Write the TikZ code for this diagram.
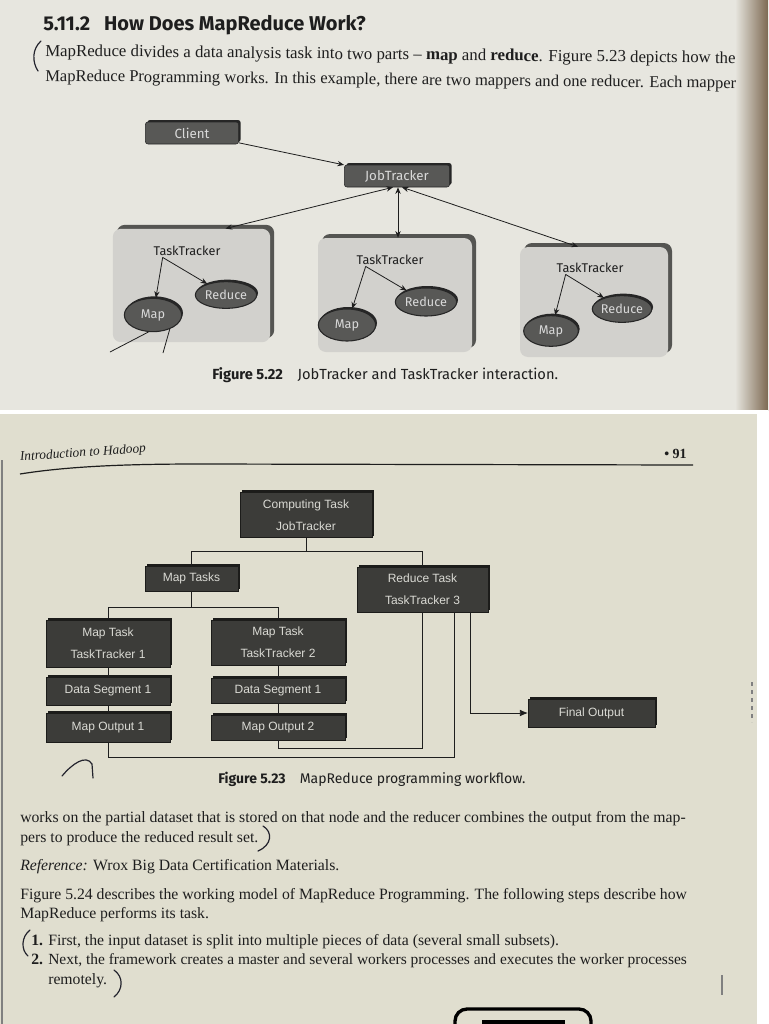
\documentclass[tikz,border=0pt]{standalone}
\usepackage{fontspec}
\setmainfont{Liberation Serif}
\newfontfamily\headfont{Fira Sans}
\newfontfamily\labfont{Liberation Sans}
\usetikzlibrary{arrows.meta, positioning, calc, shapes.geometric, shadows}

\definecolor{paperA}{RGB}{231,230,223}
\definecolor{paperB}{RGB}{224,222,207}
\definecolor{edgeC}{RGB}{125,105,82}
\definecolor{inkC}{RGB}{30,30,30}
\definecolor{boxC}{RGB}{88,88,86}
\definecolor{boxS}{RGB}{38,38,38}
\definecolor{panelC}{RGB}{210,209,205}
\definecolor{panelS}{RGB}{85,85,82}
\definecolor{blockC}{RGB}{60,60,57}
\definecolor{blockS}{RGB}{28,28,26}
\definecolor{blockT}{RGB}{218,218,212}
\definecolor{penC}{RGB}{35,35,45}

\begin{document}
\begin{tikzpicture}[
  x=0.75pt, y=-0.75pt,
  % Top figure styles
  darkbox/.style={rectangle, rounded corners=2pt, draw=boxS, fill=boxC, text=white!85!black,
    font=\headfont\fontsize{10}{11}\selectfont, inner sep=0pt,
    copy shadow={shadow xshift=1.5pt, shadow yshift=1.5pt, fill=boxS, draw=none}},
  panel/.style={rectangle, rounded corners=6pt, fill=panelC, inner sep=0pt,
    copy shadow={shadow xshift=3pt, shadow yshift=3pt, fill=panelS, draw=none}},
  blob/.style={ellipse, draw=boxS, thick, fill=boxC, text=white!85!black,
    font=\headfont\fontsize{9.5}{10}\selectfont, inner sep=0pt,
    copy shadow={shadow xshift=1pt, shadow yshift=1.5pt, fill=boxS, draw=none}},
  ttlabel/.style={font=\headfont\fontsize{9.5}{10}\selectfont, inner sep=1pt, text=inkC},
  link/.style={draw=inkC, line width=0.6pt},
  arr/.style={link, -{Stealth[length=5pt, width=4pt]}},
  arrtwo/.style={link, {Stealth[length=5pt, width=4pt]}-{Stealth[length=5pt, width=4pt]}},
  % Lower figure styles
  block/.style={rectangle, draw=blockS, fill=blockC, text=blockT, align=center,
    font=\labfont\fontsize{9}{16.5}\selectfont, inner sep=0pt,
    copy shadow={shadow xshift=1.5pt, shadow yshift=1.5pt, fill=blockS, draw=none}},
  wire/.style={draw=inkC, line width=0.6pt},
  % Page text
  body/.style={anchor=base west, inner sep=0pt, text=inkC},
  caption/.style={anchor=base west, inner sep=0pt, text=inkC, font=\headfont\fontsize{11}{12}\selectfont},
  pen/.style={draw=penC, line width=0.9pt, line cap=round}
]

\useasboundingbox (0,0) rectangle (768,1024);

% ------------------------------------------------------------
% Paper of the two photos
% ------------------------------------------------------------
\fill[paperA] (0,0) rectangle (768,410);
\shade[left color=paperA, right color=edgeC] (735,0) rectangle (768,410);
\fill[white] (0,410) rectangle (768,414);
\fill[paperB] (0,414) rectangle (757,1024);
\fill[white] (757,414) rectangle (768,1024);
\draw[gray, line width=1pt] (2,460) -- (2,1024);

% ============================================================
% Upper page: heading and text
% ============================================================
\node[body, font=\headfont\bfseries\fontsize{15}{17}\selectfont] (head) at (43,31)
  {5.11.2\hspace{0.7em}How Does MapReduce Work?};
\node[body, rotate=-0.6, font=\fontsize{12.6}{14}\selectfont] (tpone) at (45,56)
  {MapReduce divides a data analysis task into two parts -- \textbf{map} and \textbf{reduce}. Figure 5.23 depicts how the};
\node[body, rotate=-0.6, font=\fontsize{12.4}{14}\selectfont] (tptwo) at (45,81)
  {MapReduce Programming works. In this example, there are two mappers and one reducer. Each mapper};

% ============================================================
% Figure 5.22: JobTracker and TaskTracker
% ============================================================
\node[darkbox, minimum width=70pt, minimum height=16.5pt] (client) at (192,133) {Client};
\node[darkbox, minimum width=79pt, minimum height=16.5pt] (jt) at (397,176) {JobTracker};

% TaskTracker panels
\node[panel, minimum width=118pt, minimum height=85pt] (pone) at (191.5,285.5) {};
\node[panel, minimum width=115.5pt, minimum height=85.5pt] (ptwo) at (395,295) {};
\node[panel, minimum width=111pt, minimum height=82.5pt] (pthree) at (594,302) {};

% Panel 1
\node[ttlabel] (ttone) at (187,251) {TaskTracker};
\node[blob, minimum width=43pt, minimum height=25pt] (mapone) at (153,315) {Map};
\node[blob, minimum width=46pt, minimum height=20pt] (redone) at (226,295) {Reduce};
\coordinate (oone) at ([xshift=8pt]ttone.south west);
\draw[arr] (oone) -- (mapone);
\draw[arr] (oone) -- (redone);
\coordinate (tailA) at (110,352);
\coordinate (tailB) at (163,353);
\draw[link] (mapone.-105) -- (tailA);
\draw[link] (mapone.-40) -- (tailB);

% Panel 2
\node[ttlabel] (tttwo) at (390,260) {TaskTracker};
\node[blob, minimum width=43pt, minimum height=24pt] (maptwo) at (347,325) {Map};
\node[blob, minimum width=46pt, minimum height=21pt] (redtwo) at (426,302) {Reduce};
\coordinate (otwo) at ([xshift=8pt]tttwo.south west);
\draw[arr] (otwo) -- (maptwo);
\draw[arr] (otwo) -- (redtwo);

% Panel 3
\node[ttlabel] (ttthree) at (590,268) {TaskTracker};
\node[blob, minimum width=41pt, minimum height=23pt] (mapthree) at (551,331) {Map};
\node[blob, minimum width=44pt, minimum height=20pt] (redthree) at (622,309) {Reduce};
\coordinate (othree) at ([xshift=8pt]ttthree.south west);
\draw[arr] (othree) -- (mapthree);
\draw[arr] (othree) -- (redthree);

% JobTracker links
\draw[arr] (client) -- (jt);
\draw[arrtwo] ($(jt.south)+(-4,0)$) -- ($(pone.north)+(34,0)$);
\draw[arrtwo] ($(jt.south)+(1,0)$) -- ($(ptwo.north)+(3,0)$);
\draw[arrtwo] ($(jt.south)+(5,0)$) -- ($(pthree.north)+(-16,0)$);

\node[caption] (capone) at (212,379) {\textbf{Figure 5.22}\hspace{1em}JobTracker and TaskTracker interaction.};

% ============================================================
% Lower page: running head
% ============================================================
\node[body, rotate=4, font=\itshape\fontsize{10}{11}\selectfont] (runhead) at (20,461) {Introduction to Hadoop};
\draw[inkC, line width=0.9pt] (20,474) .. controls (70,466) and (130,464) .. (200,464) -- (693,465);
\node[body, font=\bfseries\fontsize{10.5}{12}\selectfont] (folio) at (664,458) {\textbullet\ 91};

% ============================================================
% Figure 5.23: MapReduce workflow
% ============================================================
\node[block, minimum width=99pt, minimum height=34pt] (ct) at (306,515) {Computing Task\\JobTracker};
\node[block, minimum width=70pt, minimum height=19pt] (mtasks) at (191.5,578.5) {Map Tasks};
\node[block, minimum width=98pt, minimum height=34pt] (rtask) at (422.5,589.5) {Reduce Task\\TaskTracker 3};
\node[block, minimum width=93pt, minimum height=35pt] (mtone) at (108,643.5) {Map Task\\TaskTracker 1};
\node[block, minimum width=100.5pt, minimum height=34pt] (mttwo) at (278,642.5) {Map Task\\TaskTracker 2};
\node[block, minimum width=93pt, minimum height=21pt] (dsone) at (108,691) {Data Segment 1};
\node[block, minimum width=100.5pt, minimum height=19pt] (dstwo) at (278,690.5) {Data Segment 1};
\node[block, minimum width=93pt, minimum height=22pt] (moone) at (108,727.5) {Map Output 1};
\node[block, minimum width=100.5pt, minimum height=19pt] (motwo) at (278,727.5) {Map Output 2};
\node[block, minimum width=95pt, minimum height=21pt] (fout) at (591.5,713) {Final Output};

\draw[wire] (ct.south) -- ++(0,13) -| (mtasks.north);
\draw[wire] (ct.south) -- ++(0,13) -| (rtask.north);
\draw[wire] (mtasks.south) -- ++(0,16) -| (mtone.north);
\draw[wire] (mtasks.south) -- ++(0,16) -| (mttwo.north);
\draw[wire] (mtone) -- (dsone);
\draw[wire] (dsone) -- (moone);
\draw[wire] (moone.south) -- ++(0,15) -| ($(rtask.south)+(32,0)$);
\draw[wire] (mttwo) -- (dstwo);
\draw[wire] (dstwo) -- (motwo);
\draw[wire] (motwo.south) -- ++(0,8) -| (rtask.south);
\draw[wire, -{Latex[length=6pt, width=5pt]}] ($(rtask.south)+(48,0)$) |- (fout.west);

\node[caption, font=\headfont\fontsize{10.5}{12}\selectfont] (captwo) at (218,783)
  {\textbf{Figure 5.23}\hspace{1em}MapReduce programming workflow.};

% ============================================================
% Lower page: text
% ============================================================
\begin{scope}[every node/.style={body, font=\fontsize{11.8}{12}\selectfont}]
  \node (bone) at (20,822) {works on the partial dataset that is stored on that node and the reducer combines the output from the map-};
  \node (btwo) at (20,842) {pers to produce the reduced result set.};
  \node (bthree) at (20,870) {\textit{Reference:} Wrox Big Data Certification Materials.};
  \node (bfour) at (20,899) {Figure 5.24 describes the working model of MapReduce Programming. The following steps describe how};
  \node (bfive) at (20,918) {MapReduce performs its task.};
  \node (none) at (31,945) {\textbf{1.}};
  \node (sone) at (48,945) {First, the input dataset is split into multiple pieces of data (several small subsets).};
  \node (ntwo) at (31,964) {\textbf{2.}};
  \node[font=\fontsize{11.6}{12}\selectfont] (stwo) at (48,964) {Next, the framework creates a master and several workers processes and executes the worker processes};
  \node (sthree) at (48,984) {remotely.};
\end{scope}

% Pen marks
\draw[pen] (41,41) .. controls (32,49) and (32,62) .. (38,71);
\draw[pen] (62,776) .. controls (72,764) and (86,754) .. (92,764) -- (93,778);
\draw[pen] (263,826) .. controls (273,832) and (272,845) .. (258,851);
\draw[pen] (30,930) .. controls (21,937) and (21,950) .. (28,956);
\draw[pen] (114,970) .. controls (124,977) and (123,990) .. (114,997);
\draw[gray, line width=0.8pt, dashed] (752,682) -- (752,722);
\draw[gray, line width=0.8pt] (722,975) -- (722,995);

% Next figure, cut by the page edge
\draw[black, line width=2.5pt, rounded corners=9pt] (455,1026) -- (455,1009) -- (591,1009) -- (591,1026);
\fill[black] (482,1020) rectangle (565,1026);

\end{tikzpicture}
\end{document}
